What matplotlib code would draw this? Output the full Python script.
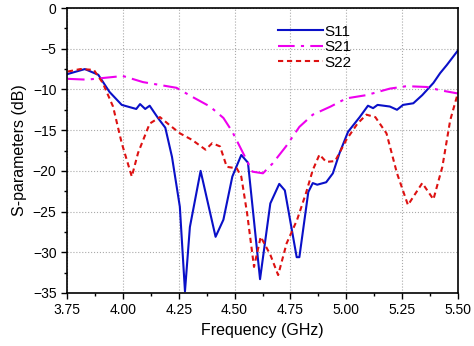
import matplotlib.pyplot as plt
from matplotlib.ticker import MultipleLocator

plt.rcParams['font.family'] = ['Liberation Sans', 'DejaVu Sans']

# S11
f11 = [3.754, 3.83, 3.89, 3.94, 3.995, 4.06, 4.077, 4.10, 4.12, 4.157, 4.19,
       4.22, 4.255, 4.278, 4.30, 4.348, 4.415, 4.45, 4.49, 4.53, 4.56, 4.614,
       4.66, 4.70, 4.725, 4.778, 4.79, 4.83, 4.85, 4.87, 4.91, 4.94, 4.97,
       5.008, 5.06, 5.097, 5.12, 5.14, 5.195, 5.227, 5.254, 5.30, 5.34, 5.39,
       5.42, 5.45, 5.50]
s11 = [-8.1, -7.5, -8.2, -10.3, -11.9, -12.4, -11.8, -12.4, -12.0, -13.5, -14.7,
       -18.3, -24.4, -34.8, -26.9, -20.0, -28.1, -26.0, -20.7, -18.05, -19.0, -33.3,
       -24.0, -21.6, -22.4, -30.6, -30.6, -22.6, -21.5, -21.7, -21.4, -20.3, -17.8,
       -15.2, -13.4, -12.0, -12.3, -11.9, -12.1, -12.5, -11.9, -11.7, -10.7, -9.2,
       -8.0, -7.0, -5.2]

# S21
f21 = [3.754, 3.84, 3.91, 4.0, 4.09, 4.24, 4.31, 4.39, 4.45, 4.49, 4.547, 4.58,
       4.627, 4.67, 4.73, 4.79, 4.85, 4.93, 5.00, 5.09, 5.195, 5.27, 5.36,
       5.42, 5.50]
s21 = [-8.7, -8.8, -8.6, -8.35, -9.1, -9.8, -10.9, -12.1, -13.5, -15.2, -18.3, -20.1,
       -20.3, -19.1, -17.0, -14.6, -13.1, -12.1, -11.1, -10.7, -9.9, -9.6, -9.7,
       -10.1, -10.5]

# S22
f22 = [3.754, 3.81, 3.87, 3.91, 3.956, 3.995, 4.04, 4.068, 4.12, 4.166, 4.21,
       4.256, 4.31, 4.37, 4.40, 4.435, 4.465, 4.51, 4.53, 4.556, 4.587, 4.617,
       4.66, 4.695, 4.733, 4.78, 4.82, 4.85, 4.88, 4.91, 4.95, 5.00, 5.05,
       5.09, 5.13, 5.18, 5.227, 5.276, 5.34, 5.39, 5.43, 5.465, 5.50]
s22 = [-7.8, -7.5, -7.6, -9.2, -12.1, -16.6, -20.7, -17.8, -14.2, -13.4, -14.4,
       -15.4, -16.2, -17.4, -16.6, -17.0, -19.5, -19.7, -20.7, -25.2, -31.8, -28.1,
       -30.3, -32.8, -28.9, -26.0, -22.7, -19.9, -18.0, -18.9, -18.8, -16.2, -14.2,
       -13.1, -13.4, -15.4, -20.3, -24.2, -21.5, -23.5, -19.5, -13.8, -10.4]

fig = plt.figure(figsize=(4.74, 3.46), dpi=100)
ax = fig.add_axes([67/474, 1 - 293/346, 391/474, 285/346])

ax.plot(f11, s11, color='#0a10c8', lw=1.5, label='S11')
ax.plot(f21, s21, color='#ee00ee', lw=1.5, ls=(0, (8, 3, 1.5, 3)), label='S21')
ax.plot(f22, s22, color='#dd1111', lw=1.5, ls=(0, (2.5, 1.8)), label='S22')

ax.set_xlim(3.75, 5.5)
ax.set_ylim(-35, 0)
ax.xaxis.set_major_locator(MultipleLocator(0.25))
ax.xaxis.set_minor_locator(MultipleLocator(0.125))
ax.yaxis.set_major_locator(MultipleLocator(5))
ax.yaxis.set_minor_locator(MultipleLocator(2.5))
ax.set_xticks(ax.get_xticks())
ax.set_xticklabels(['%.2f' % v for v in ax.get_xticks()])
ax.set_xlim(3.75, 5.5)
ax.tick_params(which='major', direction='out', length=4, width=1, labelsize=10)
ax.tick_params(which='minor', direction='out', length=2.5, width=1)
ax.grid(True, which='major', color='#aaaaaa', ls=':', lw=0.8)
for sp in ax.spines.values():
    sp.set_linewidth(1.2)

ax.set_xlabel('Frequency (GHz)', fontsize=11.5)
ax.set_ylabel('S-parameters (dB)', fontsize=11.5)

ax.legend(loc='upper left', bbox_to_anchor=(0.505, 0.99), frameon=False,
          fontsize=11, handlelength=2.9, handletextpad=0.15, labelspacing=0.1)

fig.savefig('out.png', dpi=100)
